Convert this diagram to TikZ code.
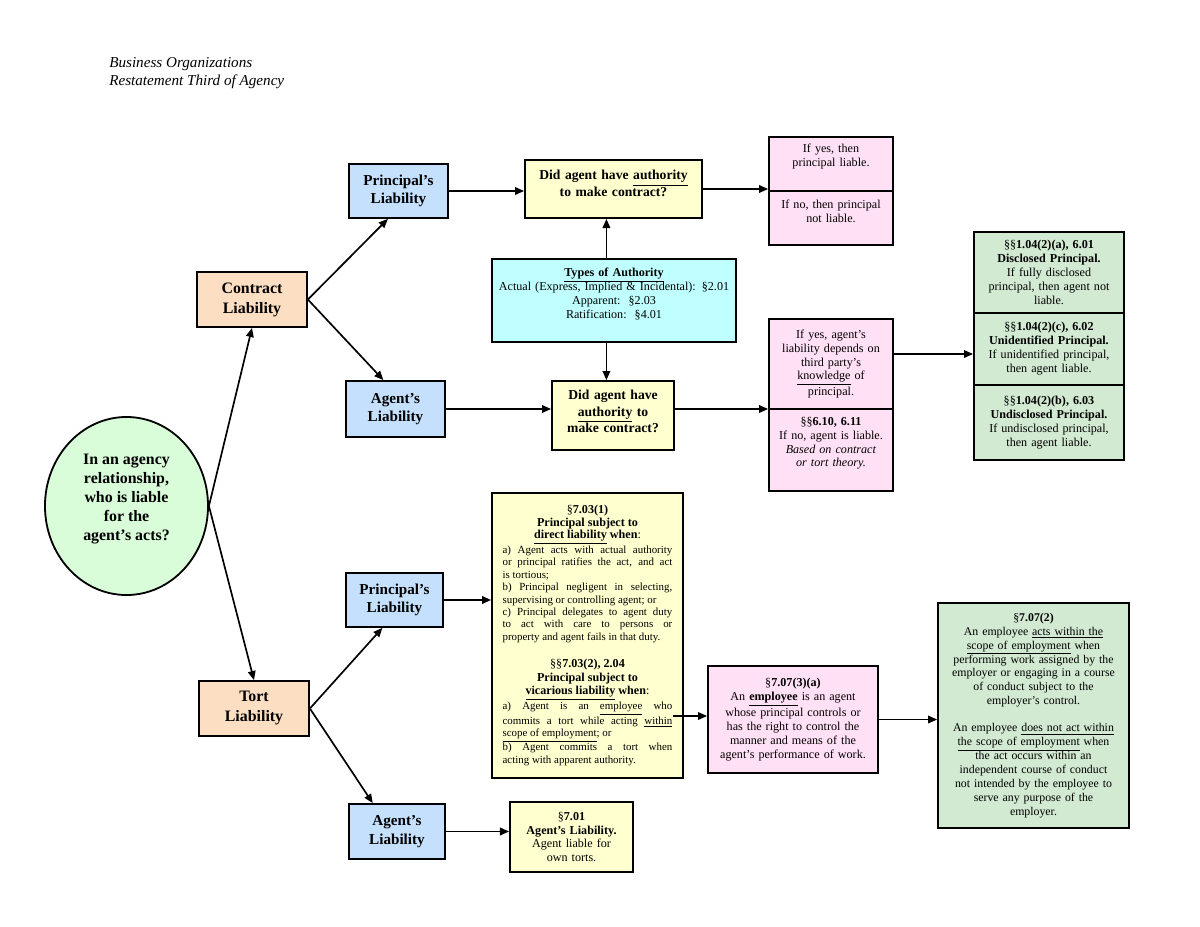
\documentclass[tikz,border=0pt]{standalone}
\usepackage{fontspec}
\setmainfont{Liberation Serif}
\usetikzlibrary{arrows.meta, shapes.geometric}
\definecolor{qgreen}{RGB}{217,252,217}
\definecolor{peach}{RGB}{252,222,194}
\definecolor{lblue}{RGB}{196,224,252}
\definecolor{lyellow}{RGB}{255,255,208}
\definecolor{lcyan}{RGB}{192,255,255}
\definecolor{lpink}{RGB}{255,224,245}
\definecolor{lgreen}{RGB}{210,233,210}
\begin{document}
\begin{tikzpicture}[x=0.66pt, y=-0.66pt, >={Triangle[length=6pt, width=5pt]},
        box/.style = {draw, line width=1.2pt, inner sep=0pt, align=center},
        kind/.style = {box, fill=peach, font=\fontsize{10.5}{13.2}\selectfont\bfseries},
        party/.style = {box, fill=lblue, font=\fontsize{10}{12}\selectfont\bfseries},
        ask/.style = {box, fill=lyellow, font=\fontsize{9}{11.2}\selectfont\bfseries},
        answer/.style = {box, fill=lpink, font=\fontsize{8}{9}\selectfont},
        rulebox/.style = {box, fill=lgreen, font=\fontsize{8}{9.2}\selectfont},
        lift/.style = {text depth=#1},
        conn/.style = {->, line width=1.1pt}]
        \path [use as bounding box, fill=white] (0, 0) rectangle (1200, 927);
        \node [anchor=west, inner sep=0pt, font=\itshape] (subject) at (109, 64) {Business Organizations};
        \node [anchor=west, inner sep=0pt, font=\itshape] (source) at (109, 82) {Restatement Third of Agency};
        \node [ellipse, draw, line width=1.2pt, fill=qgreen, minimum width=107.6pt,
            minimum height=117.5pt, inner sep=0pt, align=center, lift=11.5pt,
            font=\fontsize{10.5}{12.5}\selectfont\bfseries] (question) at (126.5, 506)
            {In an agency\\relationship,\\who is liable\\for the\\agent's acts?};
        \node [kind, text width=72.6pt, minimum height=36.3pt] (contract) at (252, 299.5) {Contract\\Liability};
        \node [kind, text width=72.6pt, minimum height=36.3pt] (tort) at (254, 708.5) {Tort\\Liability};
        \node [party, text width=65.3pt, minimum height=35.6pt] (cprincipal) at (398.5, 191) {Principal's\\Liability};
        \node [party, text width=65.3pt, minimum height=37pt] (cagent) at (395.5, 409) {Agent's\\Liability};
        \node [party, text width=64pt, minimum height=35.6pt] (tprincipal) at (394.5, 600) {Principal's\\Liability};
        \node [party, text width=63.4pt, minimum height=36.3pt] (tagent) at (397, 831.5) {Agent's\\Liability};
        \node [ask, text width=116.8pt, minimum height=38.3pt, lift=18.4pt] (pauthority) at (613.5, 189)
            {Did agent have \underline{authority}\\to make contract?};
        \node [answer, text width=81.8pt, minimum height=35.6pt, lift=20.7pt] (pyes) at (831, 164)
            {If yes, then\\principal liable.};
        \node [answer, text width=81.8pt, minimum height=35.6pt, lift=18.2pt] (pno) at (831, 218)
            {If no, then principal\\not liable.};
        \node [box, fill=lcyan, text width=161pt, minimum height=54.8pt, lift=37.8pt,
            font=\fontsize{8}{9.4}\selectfont] (types) at (614, 300.5)
            {\textbf{\underline{Types of Authority}}\\Actual (Express, Implied \& Incidental): §2.01\\
            Apparent:~~§2.03\\Ratification:~~§4.01};
        \node [ask, text width=80.5pt, minimum height=45.5pt, lift=26.8pt,
            font=\fontsize{9}{10.8}\selectfont\bfseries] (aauthority) at (613, 415.5)
            {Did agent have\\\underline{authority} to\\make contract?};
        \node [answer, text width=81.8pt, minimum height=59.4pt] (ayes) at (831, 364)
            {If yes, agent's\\liability depends on\\third party's\\\underline{knowledge} of\\principal.};
        \node [answer, text width=81.8pt, minimum height=54.1pt, lift=37.3pt] (ano) at (831, 450)
            {§§\textbf{6.10, 6.11}\\If no, agent is liable.\\\textit{Based on contract}\\\textit{or tort theory.}};
        \node [rulebox, text width=99pt, minimum height=53.5pt] (disclosed) at (1049, 272.5)
            {§§\textbf{1.04(2)(a), 6.01}\\\textbf{Disclosed Principal.}\\If fully disclosed\\principal, then agent not\\liable.};
        \node [rulebox, text width=99pt, minimum height=47.5pt] (unidentified) at (1049, 349)
            {§§\textbf{1.04(2)(c), 6.02}\\\textbf{Unidentified Principal.}\\If unidentified principal,\\then agent liable.};
        \node [rulebox, text width=99pt, minimum height=49.5pt] (undisclosed) at (1049, 422.5)
            {§§\textbf{1.04(2)(b), 6.03}\\\textbf{Undisclosed Principal.}\\If undisclosed principal,\\then agent liable.};
        \node [box, fill=lyellow, text width=112pt, inner xsep=7pt, minimum height=188.1pt,
            align=justify, font=\fontsize{7.2}{8.2}\selectfont] (tprules) at (587.5, 635.5)
            {{\fontsize{8}{8.9}\selectfont
            \centerline{§\textbf{7.03(1)}}
            \centerline{\textbf{Principal subject to}}
            \centerline{\textbf{\underline{direct liability} when}:}}
            a) Agent acts with actual authority\linebreak or principal ratifies the act, and act\linebreak is tortious;\par
            b) Principal negligent in selecting,\linebreak supervising or controlling agent; or\par
            c) Principal delegates to agent duty\linebreak to act with care to persons or\linebreak property and agent fails in that duty.\par
            \vspace{9pt}
            {\fontsize{8}{9}\selectfont
            \centerline{§§\textbf{7.03(2), 2.04}}
            \centerline{\textbf{Principal subject to}}
            \centerline{\textbf{\underline{vicarious liability} when}:}}
            a) Agent is an \underline{employee} who\linebreak commits a tort while acting \underline{within}\linebreak \underline{scope of employment}; or\par
            b) Agent commits a tort when\linebreak acting with apparent authority.};
        \node [answer, text width=112.2pt, minimum height=70.6pt, font=\fontsize{8}{9.2}\selectfont] (employee) at (793, 719.5)
            {§\textbf{7.07(3)(a)}\\An \textbf{\underline{employee}} is an agent\\whose principal controls or\\has the right to control the\\
            manner and means of the\\agent's performance of work.};
        \node [rulebox, text width=126pt, minimum height=148.5pt, font=\fontsize{7.8}{9.2}\selectfont] (scope) at (1033.5, 715.5)
            {§\textbf{7.07(2)}\\An employee \underline{acts within the}\\\underline{scope of employment} when\\
            performing work assigned by the\\employer or engaging in a course\\of conduct subject to the\\
            employer's control.\\[8.6pt]An employee \underline{does not act within}\\\underline{the scope of employment} when\\
            the act occurs within an\\independent course of conduct\\not intended by the employee to\\
            serve any purpose of the\\employer.};
        \node [ask, text width=81.2pt, minimum height=46.2pt, font=\fontsize{8}{9}\selectfont] (owntorts) at (571.5, 837)
            {§\textbf{7.01}\\\textbf{Agent's Liability.}\\Agent liable for\\own torts.};
        \coordinate (within) at (673, 716);
        \draw [conn] (question.east) -- (contract.south);
        \draw [conn] (question.east) -- (tort.north);
        \draw [conn] (contract.east) -- ([xshift=-7pt]cprincipal.south);
        \draw [conn] (contract.east) -- ([xshift=-8pt]cagent.north);
        \draw [conn] (tort.east) -- ([xshift=-8pt]tprincipal.south);
        \draw [conn] (tort.east) -- ([xshift=-16pt]tagent.north);
        \draw [conn] (cprincipal.east) -- (cprincipal.east -| pauthority.west);
        \draw [conn] (pauthority.east) -- (pauthority.east -| pyes.west);
        \draw [conn] ([xshift=-5pt]types.north) -- ([xshift=-5pt]types.north |- pauthority.south);
        \draw [conn] ([xshift=-5pt]types.south) -- ([xshift=-5pt]types.south |- aauthority.north);
        \draw [conn] (cagent.east) -- (cagent.east -| aauthority.west);
        \draw [conn] (aauthority.east |- cagent.east) -- (ano.west |- cagent.east);
        \draw [conn] ([yshift=6.6pt]ayes.east) -- ([yshift=6.6pt]ayes.east -| unidentified.west);
        \draw [conn] (tprincipal.east) -- (tprincipal.east -| tprules.west);
        \draw [conn] (within) -- (within -| employee.west);
        \draw [conn] (employee.east) -- (employee.east -| scope.west);
        \draw [conn] (tagent.east) -- (tagent.east -| owntorts.west);
\end{tikzpicture}
\end{document}
